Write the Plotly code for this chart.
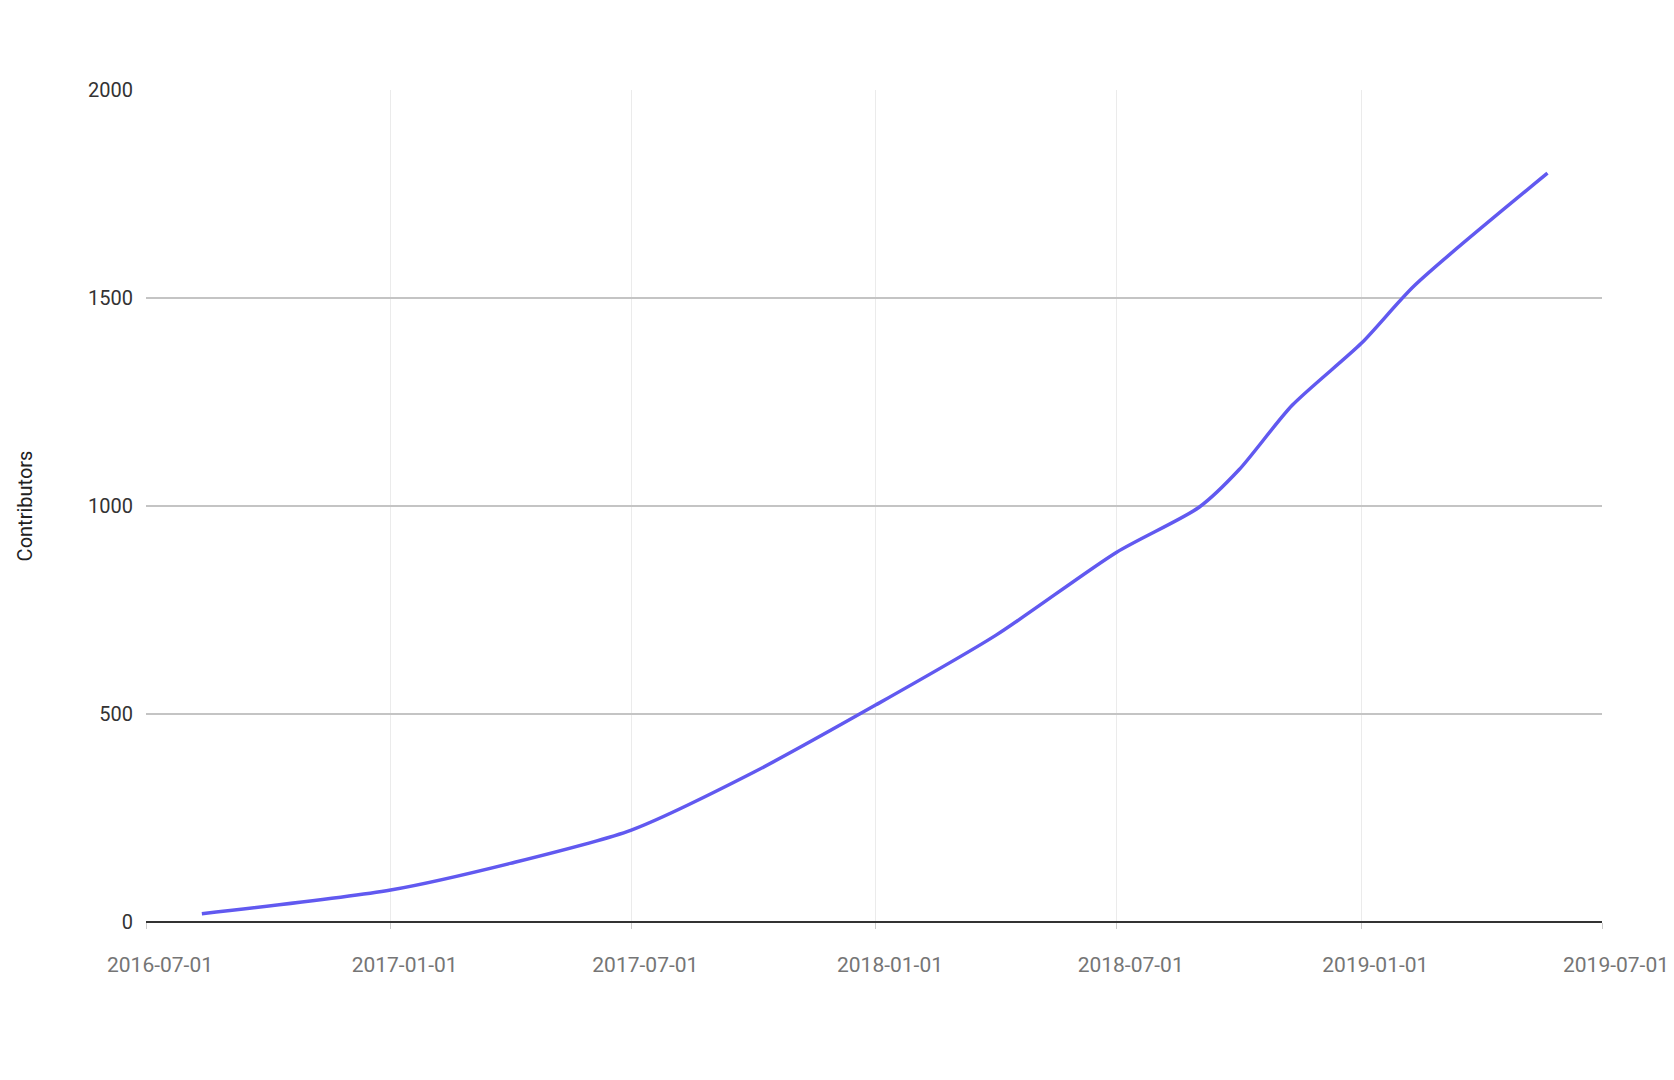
import plotly.graph_objects as go

dates = ["2016-08-12","2017-01-01","2017-04-01","2017-07-01","2017-10-01","2018-01-01",
         "2018-04-01","2018-07-01","2018-09-01","2018-10-01","2018-11-10","2019-01-01",
         "2019-02-10","2019-05-21"]
contributors = [20,77,141,221,360,522,689,889,997,1087,1242,1391,1530,1800]
tick_vals = ["2016-07-01","2017-01-01","2017-07-01","2018-01-01","2018-07-01","2019-01-01","2019-07-01"]

fig = go.Figure(go.Scatter(x=dates, y=contributors, mode="lines",
                           line=dict(color="#6159f0", width=3.5, shape="spline", smoothing=0.7)))
fig.update_layout(
    width=1674, height=1080, paper_bgcolor="white", plot_bgcolor="white",
    margin=dict(l=138, r=80, t=82, b=166),
    font=dict(family="Roboto", size=20, color="#444"),
    showlegend=False,
    xaxis=dict(range=["2016-07-01","2019-07-01"], tickvals=tick_vals, ticktext=tick_vals,
               showgrid=True, gridcolor="#ebebeb", ticks="outside", ticklen=6, tickcolor="#ccc",
               tickfont=dict(color="#757575", size=21), ticklabelshift=14,
               ticklabelstandoff=18, tickangle=0),
    yaxis=dict(range=[0,2000], tickvals=[0,500,1000,1500,2000], showgrid=True,
               gridcolor="#c4c4c4", gridwidth=1.5, zeroline=True, zerolinecolor="#333",
               zerolinewidth=1.5, ticklabelstandoff=12,
               title=dict(text="Contributors", standoff=50, font=dict(size=20, color="#222")),
               tickfont=dict(color="#333", size=20)),
)
fig.write_html("out.html")
